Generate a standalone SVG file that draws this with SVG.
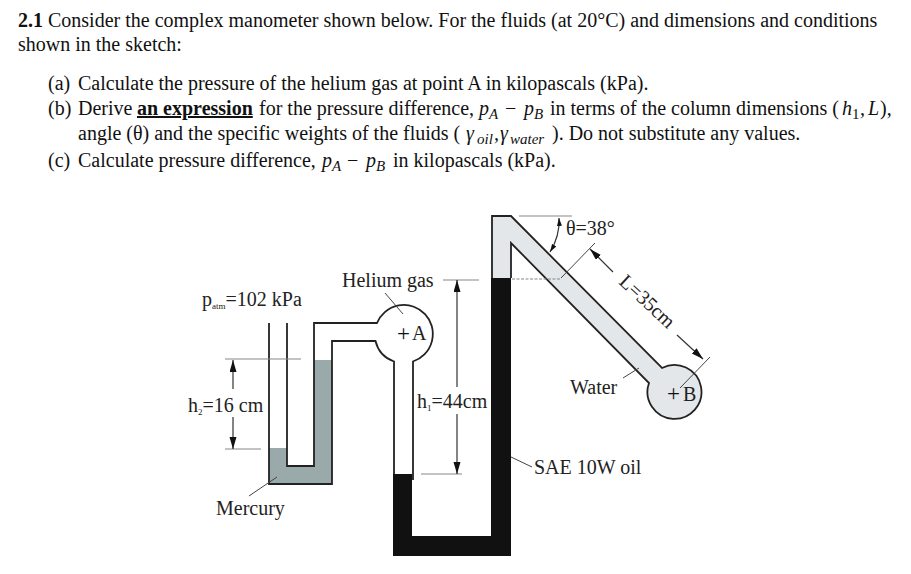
<svg xmlns="http://www.w3.org/2000/svg" width="911" height="574" viewBox="0 0 911 574">
<style>
text{font-family:"Liberation Serif","Times New Roman",serif;fill:#111}
.q{font-size:20px}
.m{font-style:italic}
.s{font-size:15px;font-style:italic}
.d{font-size:20px;fill:#222}
.p{font-size:23px;fill:#111}
.t{fill:none;stroke:#222;stroke-width:1.8}
.e{fill:none;stroke:#888;stroke-width:1.2}
.a{fill:none;stroke:#333;stroke-width:1.2}
.l{fill:none;stroke:#444;stroke-width:1}
</style>
<defs>
<marker id="ah" markerUnits="userSpaceOnUse" markerWidth="13" markerHeight="8" refX="12" refY="3.5" orient="auto"><path d="M0 0L12 3.5L0 7Z" fill="#111"/></marker>
<marker id="as" markerUnits="userSpaceOnUse" markerWidth="9" markerHeight="6" refX="8" refY="2.5" orient="auto-start-reverse"><path d="M0 0L8 2.5L0 5Z" fill="#111"/></marker>
</defs>
<rect width="911" height="574" fill="#fff"/>
<g id="question">
<text class="q" x="18" y="27"><tspan font-weight="bold">2.1</tspan> Consider the complex manometer shown below. For the fluids (at 20°C) and dimensions and conditions</text>
<text class="q" x="18" y="51">shown in the sketch:</text>
<text class="q" x="48" y="90">(a)<tspan x="78">Calculate the pressure of the helium gas at point A in kilopascals (kPa).</tspan></text>
<text class="q" x="48" y="115">(b)<tspan x="78">Derive</tspan><tspan x="137" font-weight="bold" text-decoration="underline">an expression</tspan><tspan x="259">for the pressure difference,</tspan><tspan x="479" class="m">p</tspan><tspan x="489" y="119" class="s">A</tspan><tspan x="505" y="115">−</tspan><tspan x="524" class="m">p</tspan><tspan x="534" y="119" class="s">B</tspan><tspan x="550" y="115">in terms of the column dimensions (</tspan><tspan x="842" class="m">h</tspan><tspan x="852" y="119" font-size="15">1</tspan><tspan x="860" y="115" class="m">,</tspan><tspan x="868" class="m">L</tspan><tspan x="880">),</tspan></text>
<text class="q" x="78" y="140">angle (θ) and the specific weights of the fluids (<tspan x="466" class="m">γ</tspan><tspan x="477" y="144" class="s">oil</tspan><tspan x="494" y="140" class="m">,</tspan><tspan x="500" class="m">γ</tspan><tspan x="510" y="144" class="s">water</tspan><tspan x="552" y="140">). Do not substitute any values.</tspan></text>
<text class="q" x="48" y="167">(c)<tspan x="78">Calculate pressure difference,</tspan><tspan x="322" class="m">p</tspan><tspan x="332" y="171" class="s">A</tspan><tspan x="347" y="167">−</tspan><tspan x="366" class="m">p</tspan><tspan x="376" y="171" class="s">B</tspan><tspan x="393" y="167">in kilopascals (kPa).</tspan></text>
</g>
<g id="fluids">
<path id="water" d="M492 278V216H511L662 368A27 27 0 1 1 649 383L511 243V278Z" fill="#e3e7e9"/>
<path id="oil" d="M393 474H412V536H491V278H511V556H393Z" fill="#111"/>
<path id="mercury" d="M269 448H287V466H314V360H332V484H269Z" fill="#9aa9a9"/>
</g>
<g id="tubes">
<path class="t" d="M269 323V484H332V341H375.5A29 29 0 0 0 394 361.5V474"/>
<path class="t" d="M287 323V466H314V323H377A29 29 0 1 1 413 361.5V480"/>
<path class="t" d="M492 278V216H511L662 368A27 27 0 1 1 649 383L511 243V278"/>
</g>
<g id="connectors">
<path class="e" d="M225 359H301M225 449H261M443 280H479M421 474H462"/>
<path class="a" d="M233 389V360" marker-end="url(#ah)"/>
<path class="a" d="M233 417V449" marker-end="url(#ah)"/>
<path class="a" d="M457 387V280" marker-end="url(#ah)"/>
<path class="a" d="M457 414V474" marker-end="url(#ah)"/>
<path class="a" d="M613 272L590 249" marker-end="url(#ah)"/>
<path class="a" d="M677 335L703 359" marker-end="url(#ah)"/>
<path class="e" d="M519 216H572"/>
<path class="a" d="M550 252Q560 236 559 218" marker-start="url(#as)" marker-end="url(#as)"/>
<path d="M512 279H560" fill="none" stroke="#888" stroke-width="1.2" stroke-dasharray="3 1.5"/>
<path class="l" d="M561 278L595 243M680 388L710 357M385 293L403 314M249 496L277 477M623 378L639 368M511 457L532 467"/>
</g>
<g id="labels">
<text class="d" x="342" y="287">Helium gas</text>
<text class="d" x="202" y="306">p<tspan font-size="9" y="309">atm</tspan><tspan y="306">=102 kPa</tspan></text>
<text class="d" x="188" y="412">h<tspan font-size="9" y="415">2</tspan><tspan y="412">=16 cm</tspan></text>
<text class="d" x="417" y="408">h<tspan font-size="9" y="411">1</tspan><tspan y="408">=44cm</tspan></text>
<text class="d" x="216" y="515">Mercury</text>
<text class="d" x="570" y="394">Water</text>
<text class="d" x="534" y="474">SAE 10W oil</text>
<text class="d" x="566" y="235">θ=38°</text>
<text class="d" transform="translate(618 283) rotate(43)">L=35cm</text>
<text class="p" x="397" y="341">+</text>
<text class="d" x="412" y="340">A</text>
<text class="p" x="667" y="401">+</text>
<text class="d" x="683" y="401">B</text>
</g>
</svg>
